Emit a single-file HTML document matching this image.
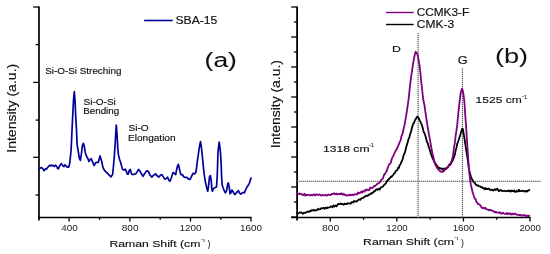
<!DOCTYPE html>
<html><head><meta charset="utf-8"><style>
html,body{margin:0;padding:0;background:#fff;}
svg{display:block;}
text{font-family:"Liberation Sans",sans-serif;}
.t{opacity:0.999;}
.t text{stroke:#111;stroke-width:0.15px;}
</style></head><body>
<svg width="550" height="254" viewBox="0 0 550 254">
<rect width="550" height="254" fill="#fff"/>
<line x1="39.0" y1="6.4" x2="39.0" y2="220.5" stroke="#000" stroke-width="1.7" />
<line x1="38.15" y1="217.5" x2="251.6" y2="217.5" stroke="#000" stroke-width="1.5" />
<line x1="33.2" y1="7" x2="39.0" y2="7" stroke="#000" stroke-width="1.3" />
<line x1="33.2" y1="82.4" x2="39.0" y2="82.4" stroke="#000" stroke-width="1.3" />
<line x1="33.2" y1="157.3" x2="39.0" y2="157.3" stroke="#000" stroke-width="1.3" />
<line x1="35.6" y1="44.6" x2="39.0" y2="44.6" stroke="#000" stroke-width="1.3" />
<line x1="35.6" y1="120.1" x2="39.0" y2="120.1" stroke="#000" stroke-width="1.3" />
<line x1="35.6" y1="195.0" x2="39.0" y2="195.0" stroke="#000" stroke-width="1.3" />
<line x1="69.1" y1="217.5" x2="69.1" y2="221.5" stroke="#000" stroke-width="1.3" />
<line x1="99.6" y1="217.5" x2="99.6" y2="219.8" stroke="#000" stroke-width="1.3" />
<line x1="129.9" y1="217.5" x2="129.9" y2="221.5" stroke="#000" stroke-width="1.3" />
<line x1="160.2" y1="217.5" x2="160.2" y2="219.8" stroke="#000" stroke-width="1.3" />
<line x1="190.5" y1="217.5" x2="190.5" y2="221.5" stroke="#000" stroke-width="1.3" />
<line x1="220.8" y1="217.5" x2="220.8" y2="219.8" stroke="#000" stroke-width="1.3" />
<line x1="251.0" y1="217.5" x2="251.0" y2="221.5" stroke="#000" stroke-width="1.3" />
<line x1="297.1" y1="6.4" x2="297.1" y2="220.5" stroke="#000" stroke-width="1.8" />
<line x1="291.2" y1="217.5" x2="530.6" y2="217.5" stroke="#000" stroke-width="1.5" />
<line x1="291.2" y1="7" x2="297.1" y2="7" stroke="#000" stroke-width="1.3" />
<line x1="291.2" y1="37" x2="297.1" y2="37" stroke="#000" stroke-width="1.3" />
<line x1="291.2" y1="67" x2="297.1" y2="67" stroke="#000" stroke-width="1.3" />
<line x1="291.2" y1="97" x2="297.1" y2="97" stroke="#000" stroke-width="1.3" />
<line x1="291.2" y1="127" x2="297.1" y2="127" stroke="#000" stroke-width="1.3" />
<line x1="291.2" y1="157" x2="297.1" y2="157" stroke="#000" stroke-width="1.3" />
<line x1="291.2" y1="187" x2="297.1" y2="187" stroke="#000" stroke-width="1.3" />
<line x1="291.2" y1="217" x2="297.1" y2="217" stroke="#000" stroke-width="1.3" />
<line x1="293.9" y1="22" x2="297.1" y2="22" stroke="#000" stroke-width="1.3" />
<line x1="293.9" y1="52" x2="297.1" y2="52" stroke="#000" stroke-width="1.3" />
<line x1="293.9" y1="82" x2="297.1" y2="82" stroke="#000" stroke-width="1.3" />
<line x1="293.9" y1="112" x2="297.1" y2="112" stroke="#000" stroke-width="1.3" />
<line x1="293.9" y1="142" x2="297.1" y2="142" stroke="#000" stroke-width="1.3" />
<line x1="293.9" y1="172" x2="297.1" y2="172" stroke="#000" stroke-width="1.3" />
<line x1="293.9" y1="202" x2="297.1" y2="202" stroke="#000" stroke-width="1.3" />
<line x1="330.2857142857143" y1="217.5" x2="330.2857142857143" y2="221.5" stroke="#000" stroke-width="1.3" />
<line x1="363.57142857142856" y1="217.5" x2="363.57142857142856" y2="219.8" stroke="#000" stroke-width="1.3" />
<line x1="396.8571428571429" y1="217.5" x2="396.8571428571429" y2="221.5" stroke="#000" stroke-width="1.3" />
<line x1="430.1428571428571" y1="217.5" x2="430.1428571428571" y2="219.8" stroke="#000" stroke-width="1.3" />
<line x1="463.42857142857144" y1="217.5" x2="463.42857142857144" y2="221.5" stroke="#000" stroke-width="1.3" />
<line x1="496.7142857142857" y1="217.5" x2="496.7142857142857" y2="219.8" stroke="#000" stroke-width="1.3" />
<line x1="530.0" y1="217.5" x2="530.0" y2="221.5" stroke="#000" stroke-width="1.3" />
<line x1="297.1" y1="181.3" x2="541.2" y2="181.3" stroke="#c4c4c4" stroke-width="1.0" />
<line x1="418.1" y1="33" x2="418.1" y2="217.5" stroke="#c4c4c4" stroke-width="1.0" />
<line x1="462.4" y1="68" x2="462.4" y2="217.5" stroke="#c4c4c4" stroke-width="1.0" />
<line x1="297.1" y1="181.3" x2="541.2" y2="181.3" stroke="#555" stroke-width="1.0" stroke-dasharray="1 1"/>
<line x1="418.1" y1="33" x2="418.1" y2="217.5" stroke="#555" stroke-width="1.0" stroke-dasharray="1 1"/>
<line x1="462.4" y1="68" x2="462.4" y2="217.5" stroke="#555" stroke-width="1.0" stroke-dasharray="1 1"/>
<path d="M39.00,168.30 L39.80,168.30 L41.00,167.70 L42.10,167.90 L43.30,169.50 L44.10,170.70 L45.30,168.90 L46.50,169.10 L47.40,167.70 L48.60,166.50 L49.60,165.30 L50.40,165.90 L51.20,165.10 L52.20,165.90 L53.10,165.30 L54.30,166.50 L55.50,165.10 L56.70,166.50 L57.50,168.30 L58.30,168.90 L59.30,166.50 L60.40,164.80 L61.40,163.60 L62.20,164.80 L63.00,165.90 L64.00,166.50 L64.90,164.80 L66.10,165.90 L67.30,167.10 L68.50,167.10 L69.30,165.30 L69.90,161.80 L70.50,155.90 L71.10,150.00 L71.60,140.00 L72.10,128.00 L72.80,114.00 L73.50,100.00 L74.30,91.50 L75.00,100.00 L75.60,114.00 L76.40,128.00 L77.10,144.40 L78.30,151.50 L79.40,158.60 L80.40,160.40 L81.40,153.90 L82.40,145.60 L83.30,143.30 L84.40,146.80 L85.30,152.70 L86.50,156.20 L87.70,158.00 L88.90,161.50 L90.00,159.80 L91.20,158.60 L92.40,161.50 L94.10,165.50 L95.90,162.40 L98.30,162.40 L100.00,155.90 L101.80,161.80 L103.00,167.70 L104.70,170.60 L106.50,172.40 L108.30,174.20 L111.00,176.90 L112.60,174.50 L113.30,168.00 L114.20,158.00 L114.90,148.00 L115.60,136.00 L116.30,125.00 L117.10,136.00 L117.80,148.00 L118.40,154.70 L119.60,159.40 L120.70,162.70 L121.80,166.70 L122.70,169.40 L124.10,170.10 L125.40,169.20 L126.30,171.40 L127.40,174.10 L128.30,174.10 L129.40,170.10 L130.30,169.40 L131.20,172.80 L132.10,174.50 L133.40,174.50 L134.80,174.10 L136.10,173.40 L137.40,171.40 L138.60,169.50 L139.90,170.80 L141.10,173.30 L143.00,176.40 L144.90,173.30 L146.80,170.80 L148.30,171.40 L150.00,175.20 L151.90,177.10 L153.70,175.20 L155.60,173.90 L157.10,175.80 L158.80,177.10 L160.40,175.20 L161.90,174.60 L163.20,176.60 L164.70,179.10 L166.30,178.50 L167.60,177.20 L168.90,180.40 L170.10,181.00 L171.20,178.30 L172.30,174.70 L173.10,172.50 L174.40,173.50 L175.70,174.70 L176.50,170.20 L177.60,165.70 L178.40,164.50 L179.20,167.60 L180.10,172.00 L181.10,174.70 L182.30,174.50 L183.60,176.60 L184.90,177.50 L186.10,177.20 L187.40,177.90 L188.60,179.10 L189.90,179.50 L191.20,177.10 L192.40,174.60 L193.30,173.30 L194.60,173.90 L195.80,172.70 L196.50,168.00 L197.50,160.10 L198.40,154.00 L199.40,147.00 L200.50,141.60 L201.50,148.00 L202.30,156.00 L203.10,164.00 L203.90,172.00 L205.00,180.00 L206.90,188.60 L207.70,191.30 L208.50,186.30 L209.50,176.80 L210.40,175.60 L211.20,180.40 L211.80,188.60 L212.40,191.30 L213.20,189.20 L214.20,188.00 L215.40,187.50 L216.50,186.90 L217.20,176.80 L217.60,165.00 L217.90,154.00 L218.50,147.00 L219.20,142.20 L219.90,147.00 L220.60,154.00 L221.20,165.00 L221.60,176.80 L222.20,185.10 L223.00,187.50 L224.20,190.70 L225.40,192.90 L226.60,190.70 L227.80,183.60 L228.40,183.00 L229.30,187.80 L230.10,193.90 L231.00,192.50 L231.90,190.10 L232.90,191.30 L233.70,193.10 L234.90,194.50 L236.10,193.10 L237.20,191.90 L238.40,190.70 L239.60,193.10 L240.80,194.10 L242.00,193.10 L243.10,192.50 L244.30,192.80 L245.50,190.10 L246.70,187.50 L247.90,185.70 L249.10,183.90 L250.20,180.40 L251.10,178.00" fill="none" stroke="#00009a" stroke-width="1.7" stroke-linejoin="round" stroke-linecap="round" />
<path d="M297.30,213.30 L298.10,213.33 L298.90,212.93 L299.70,212.50 L300.50,212.60 L301.30,212.38 L302.10,213.01 L302.90,213.75 L303.70,212.93 L304.50,212.66 L305.30,212.90 L306.10,212.53 L306.90,212.09 L307.70,211.41 L308.50,211.71 L309.30,211.93 L310.10,210.76 L310.90,211.06 L311.70,210.19 L312.50,210.36 L313.30,209.92 L314.10,210.56 L314.90,209.89 L315.70,210.50 L316.50,210.28 L317.30,209.95 L318.10,208.61 L318.90,209.36 L319.70,209.37 L320.50,209.22 L321.30,208.16 L322.10,208.45 L322.90,208.03 L323.70,207.98 L324.50,208.78 L325.30,207.71 L326.10,207.97 L326.90,208.29 L327.70,207.42 L328.50,207.53 L329.30,207.47 L330.10,207.23 L330.90,206.37 L331.70,206.81 L332.50,207.23 L333.30,205.56 L334.10,206.55 L334.90,205.96 L335.70,205.36 L336.50,206.34 L337.30,205.30 L338.10,203.90 L338.90,204.11 L339.70,203.95 L340.50,203.48 L341.30,204.04 L342.10,203.79 L342.90,204.29 L343.70,204.72 L344.50,203.66 L345.30,204.10 L346.10,203.77 L346.90,204.06 L347.70,203.24 L348.50,203.32 L349.30,203.28 L350.10,203.60 L350.90,203.50 L351.70,202.04 L352.50,202.08 L353.30,202.58 L354.10,201.03 L354.90,201.45 L355.70,201.27 L356.50,201.58 L357.30,200.93 L358.10,200.05 L358.90,199.67 L359.70,199.36 L360.50,199.88 L361.30,198.53 L362.10,198.16 L362.90,198.06 L363.70,197.40 L364.50,196.93 L365.30,196.04 L366.10,196.16 L366.90,195.52 L367.70,195.89 L368.50,195.19 L369.30,194.40 L370.10,194.29 L370.90,193.34 L371.70,193.58 L372.50,192.60 L373.30,192.45 L374.10,191.06 L374.90,191.42 L375.70,189.96 L376.50,189.33 L377.30,189.73 L378.10,188.98 L378.90,189.05 L379.70,189.64 L380.50,187.64 L381.30,187.29 L382.10,187.02 L382.90,186.48 L383.70,185.47 L384.50,184.57 L385.30,184.01 L386.10,182.91 L386.90,181.12 L387.70,180.59 L388.50,179.70 L389.30,178.31 L390.10,178.11 L390.90,176.71 L391.70,176.79 L392.50,175.60 L393.30,174.74 L394.10,173.60 L394.90,172.96 L395.70,171.06 L396.50,170.53 L397.30,170.20 L398.10,167.69 L398.90,167.90 L399.70,165.06 L400.50,164.59 L401.30,162.08 L402.10,160.74 L402.90,158.27 L403.70,154.91 L404.50,153.56 L405.30,150.91 L406.10,147.49 L406.90,144.75 L407.70,142.18 L408.50,139.14 L409.30,137.54 L410.10,134.23 L410.90,132.07 L411.70,128.82 L412.50,126.12 L413.30,123.54 L414.10,122.82 L414.90,120.16 L415.70,119.23 L416.50,117.56 L417.30,116.68 L418.10,117.46 L418.90,118.36 L419.70,120.36 L420.50,121.93 L421.30,123.75 L422.10,125.66 L422.90,128.40 L423.70,132.08 L424.50,133.35 L425.30,135.46 L426.10,138.52 L426.90,141.85 L427.70,143.02 L428.50,145.90 L429.30,148.62 L430.10,150.85 L430.90,153.97 L431.70,155.82 L432.50,158.00 L433.30,159.44 L434.10,161.75 L434.90,162.56 L435.70,164.10 L436.50,165.09 L437.30,166.01 L438.10,167.96 L438.90,167.63 L439.70,168.35 L440.50,168.50 L441.30,168.47 L442.10,168.56 L442.90,169.19 L443.70,168.60 L444.50,168.55 L445.30,168.36 L446.10,168.60 L446.90,167.92 L447.70,167.17 L448.50,166.09 L449.30,164.80 L450.10,165.05 L450.90,163.96 L451.70,162.00 L452.50,160.95 L453.30,159.05 L454.10,156.97 L454.90,154.27 L455.70,150.20 L456.50,147.76 L457.30,143.52 L458.10,141.83 L458.90,139.25 L459.70,136.78 L460.50,134.21 L461.30,131.37 L462.10,128.75 L462.90,129.16 L463.70,133.91 L464.50,138.97 L465.30,144.09 L466.10,149.50 L466.90,154.32 L467.70,159.60 L468.50,165.94 L469.30,170.62 L470.10,173.61 L470.90,176.57 L471.70,178.38 L472.50,180.00 L473.30,181.71 L474.10,182.35 L474.90,183.05 L475.70,184.69 L476.50,184.90 L477.30,185.63 L478.10,185.42 L478.90,186.09 L479.70,186.27 L480.50,186.60 L481.30,187.42 L482.10,187.21 L482.90,188.02 L483.70,188.24 L484.50,189.30 L485.30,187.82 L486.10,189.19 L486.90,188.88 L487.70,189.10 L488.50,188.55 L489.30,189.22 L490.10,189.98 L490.90,189.67 L491.70,189.85 L492.50,189.76 L493.30,190.58 L494.10,190.09 L494.90,189.10 L495.70,189.95 L496.50,189.37 L497.30,188.78 L498.10,190.19 L498.90,191.17 L499.70,190.58 L500.50,190.02 L501.30,190.18 L502.10,191.27 L502.90,190.83 L503.70,190.83 L504.50,190.83 L505.30,190.92 L506.10,191.32 L506.90,191.21 L507.70,191.06 L508.50,190.45 L509.30,191.24 L510.10,190.66 L510.90,191.57 L511.70,190.40 L512.50,190.99 L513.30,191.07 L514.10,190.43 L514.90,191.96 L515.70,191.83 L516.50,190.87 L517.30,191.49 L518.10,191.29 L518.90,189.79 L519.70,191.23 L520.50,191.07 L521.30,191.14 L522.10,190.56 L522.90,190.97 L523.70,191.01 L524.50,191.67 L525.30,191.20 L526.10,190.98 L526.90,191.70 L527.70,190.61 L528.50,190.65 L529.30,189.89" fill="none" stroke="#000" stroke-width="1.8" stroke-linejoin="round" stroke-linecap="round" />
<path d="M297.30,193.02 L298.10,193.94 L298.90,194.12 L299.70,193.51 L300.50,193.88 L301.30,194.02 L302.10,194.82 L302.90,194.61 L303.70,195.06 L304.50,193.82 L305.30,195.57 L306.10,194.79 L306.90,195.23 L307.70,194.87 L308.50,194.80 L309.30,195.25 L310.10,195.46 L310.90,194.97 L311.70,195.02 L312.50,195.47 L313.30,194.71 L314.10,194.42 L314.90,195.40 L315.70,194.86 L316.50,194.24 L317.30,194.79 L318.10,194.97 L318.90,194.60 L319.70,194.45 L320.50,195.22 L321.30,195.65 L322.10,195.05 L322.90,194.77 L323.70,195.31 L324.50,195.45 L325.30,194.92 L326.10,195.31 L326.90,195.54 L327.70,194.86 L328.50,194.45 L329.30,194.93 L330.10,194.78 L330.90,195.10 L331.70,193.81 L332.50,194.02 L333.30,193.83 L334.10,193.29 L334.90,194.15 L335.70,194.27 L336.50,193.56 L337.30,194.55 L338.10,194.19 L338.90,194.02 L339.70,193.83 L340.50,194.20 L341.30,193.26 L342.10,194.44 L342.90,194.64 L343.70,193.65 L344.50,194.91 L345.30,194.82 L346.10,195.54 L346.90,195.13 L347.70,195.31 L348.50,195.37 L349.30,194.65 L350.10,195.28 L350.90,194.81 L351.70,195.00 L352.50,194.38 L353.30,195.07 L354.10,194.72 L354.90,194.10 L355.70,194.27 L356.50,194.34 L357.30,194.37 L358.10,192.44 L358.90,193.43 L359.70,192.98 L360.50,192.46 L361.30,191.76 L362.10,192.59 L362.90,191.02 L363.70,191.63 L364.50,191.70 L365.30,189.94 L366.10,190.29 L366.90,189.48 L367.70,189.95 L368.50,190.24 L369.30,190.05 L370.10,187.70 L370.90,187.85 L371.70,188.04 L372.50,188.02 L373.30,186.99 L374.10,185.96 L374.90,186.03 L375.70,185.36 L376.50,184.64 L377.30,183.75 L378.10,183.68 L378.90,183.01 L379.70,182.19 L380.50,181.26 L381.30,179.73 L382.10,179.13 L382.90,178.51 L383.70,176.06 L384.50,173.86 L385.30,173.77 L386.10,171.77 L386.90,170.55 L387.70,167.67 L388.50,165.95 L389.30,164.00 L390.10,163.75 L390.90,162.56 L391.70,159.04 L392.50,157.31 L393.30,156.17 L394.10,153.79 L394.90,152.40 L395.70,150.69 L396.50,149.30 L397.30,147.98 L398.10,145.67 L398.90,144.39 L399.70,142.00 L400.50,140.66 L401.30,136.83 L402.10,134.58 L402.90,132.58 L403.70,128.25 L404.50,125.20 L405.30,120.60 L406.10,116.11 L406.90,110.81 L407.70,105.71 L408.50,99.94 L409.30,92.38 L410.10,85.09 L410.90,78.42 L411.70,72.77 L412.50,67.58 L413.30,62.10 L414.10,57.98 L414.90,54.26 L415.70,51.78 L416.50,52.56 L417.30,54.11 L418.10,57.21 L418.90,61.60 L419.70,66.50 L420.50,73.73 L421.30,82.37 L422.10,89.07 L422.90,96.99 L423.70,102.06 L424.50,105.29 L425.30,111.49 L426.10,116.73 L426.90,121.92 L427.70,127.06 L428.50,131.87 L429.30,136.56 L430.10,140.37 L430.90,145.54 L431.70,149.56 L432.50,153.73 L433.30,156.89 L434.10,160.43 L434.90,163.28 L435.70,165.36 L436.50,166.89 L437.30,168.19 L438.10,169.06 L438.90,170.19 L439.70,170.64 L440.50,171.69 L441.30,171.71 L442.10,171.97 L442.90,170.77 L443.70,171.43 L444.50,170.14 L445.30,169.53 L446.10,169.12 L446.90,168.17 L447.70,167.68 L448.50,166.33 L449.30,164.81 L450.10,163.60 L450.90,163.15 L451.70,160.64 L452.50,158.15 L453.30,153.55 L454.10,146.97 L454.90,142.64 L455.70,134.99 L456.50,130.14 L457.30,124.27 L458.10,115.27 L458.90,108.15 L459.70,100.50 L460.50,94.42 L461.30,90.67 L462.10,88.67 L462.90,91.04 L463.70,95.80 L464.50,103.19 L465.30,115.98 L466.10,126.10 L466.90,139.40 L467.70,151.08 L468.50,163.12 L469.30,172.68 L470.10,179.85 L470.90,184.98 L471.70,188.24 L472.50,192.12 L473.30,194.27 L474.10,196.84 L474.90,198.81 L475.70,199.29 L476.50,202.06 L477.30,202.70 L478.10,204.02 L478.90,204.19 L479.70,204.74 L480.50,205.58 L481.30,207.03 L482.10,208.01 L482.90,207.67 L483.70,208.54 L484.50,208.17 L485.30,207.66 L486.10,209.00 L486.90,209.46 L487.70,209.33 L488.50,210.01 L489.30,210.37 L490.10,209.87 L490.90,209.78 L491.70,210.62 L492.50,210.84 L493.30,210.98 L494.10,211.87 L494.90,212.45 L495.70,211.59 L496.50,212.28 L497.30,212.54 L498.10,212.56 L498.90,212.86 L499.70,212.28 L500.50,212.98 L501.30,213.76 L502.10,213.28 L502.90,212.70 L503.70,213.45 L504.50,213.91 L505.30,213.59 L506.10,213.20 L506.90,214.33 L507.70,213.01 L508.50,213.97 L509.30,213.78 L510.10,213.27 L510.90,214.56 L511.70,214.20 L512.50,213.52 L513.30,214.48 L514.10,214.04 L514.90,213.38 L515.70,214.08 L516.50,214.65 L517.30,214.93 L518.10,214.79 L518.90,214.82 L519.70,215.13 L520.50,214.88 L521.30,215.66 L522.10,215.24 L522.90,215.41 L523.70,215.62 L524.50,214.92 L525.30,215.18 L526.10,216.40 L526.90,215.89 L527.70,215.67 L528.50,216.08 L529.30,215.76" fill="none" stroke="#800080" stroke-width="1.8" stroke-linejoin="round" stroke-linecap="round" />
<line x1="144.1" y1="20.5" x2="172.7" y2="20.5" stroke="#00009a" stroke-width="1.6" />
<line x1="386" y1="12.5" x2="413.6" y2="12.5" stroke="#800080" stroke-width="1.4" />
<line x1="386" y1="24.5" x2="413.6" y2="24.5" stroke="#000" stroke-width="1.4" />
<g class="t">
<text transform="translate(175.45,24.10) scale(1.2173,1)" font-size="10.00" fill="#111" >SBA-15</text>
<text transform="translate(204.62,67.00) scale(1.3520,1)" font-size="19.50" fill="#111" style="stroke-width:0.1px">(a)</text>
<text transform="translate(494.97,63.40) scale(1.3939,1)" font-size="19.50" fill="#111" style="stroke:none">(b)</text>
<text transform="translate(45.26,74.10) scale(1.1347,1)" font-size="8.71" fill="#111" >Si-O-Si Streching</text>
<text transform="translate(83.45,104.50) scale(1.1742,1)" font-size="8.57" fill="#111" >Si-O-Si</text>
<text transform="translate(83.21,114.40) scale(1.1452,1)" font-size="8.57" fill="#111" >Bending</text>
<text transform="translate(128.44,131.00) scale(1.2082,1)" font-size="8.43" fill="#111" >Si-O</text>
<text transform="translate(128.10,141.00) scale(1.1916,1)" font-size="8.43" fill="#111" >Elongation</text>
<text transform="translate(61.20,230.90) scale(1.1042,1)" font-size="9.00" fill="#222" style="stroke:none">400</text>
<text transform="translate(121.75,230.90) scale(1.1216,1)" font-size="9.00" fill="#222" style="stroke:none">800</text>
<text transform="translate(179.56,230.90) scale(1.1032,1)" font-size="9.00" fill="#222" style="stroke:none">1200</text>
<text transform="translate(240.06,230.90) scale(1.1032,1)" font-size="9.00" fill="#222" style="stroke:none">1600</text>
<text transform="translate(321.97,230.80) scale(1.1611,1)" font-size="8.86" fill="#222" style="stroke:none">800</text>
<text transform="translate(386.13,230.80) scale(1.0997,1)" font-size="8.86" fill="#222" style="stroke:none">1200</text>
<text transform="translate(452.70,230.80) scale(1.0997,1)" font-size="8.86" fill="#222" style="stroke:none">1600</text>
<text transform="translate(519.52,230.80) scale(1.0868,1)" font-size="8.86" fill="#222" style="stroke:none">2000</text>
<text transform="translate(363.12,245.30) scale(1.2584,1)" font-size="9.71" fill="#111" >Raman Shift (cm</text>
<text transform="translate(454.46,239.30) scale(0.8844,1)" font-size="6.00" fill="#111" >-</text>
<text transform="translate(456.52,240.30) scale(0.8582,1)" font-size="4.29" fill="#111" >1</text>
<text transform="translate(461.26,245.50) scale(0.8115,1)" font-size="9.30" fill="#111" >)</text>
<text transform="translate(109.52,247.20) scale(1.2584,1)" font-size="9.71" fill="#111" >Raman Shift (cm</text>
<text transform="translate(200.86,241.20) scale(0.8844,1)" font-size="6.00" fill="#111" >-</text>
<text transform="translate(202.92,242.20) scale(0.8582,1)" font-size="4.29" fill="#111" >1</text>
<text transform="translate(207.66,247.40) scale(0.8115,1)" font-size="9.30" fill="#111" >)</text>
<text transform="translate(16.20,152.76) rotate(-90) scale(1.0564,1)" font-size="13.30" fill="#111">Intensity (a.u.)</text>
<text transform="translate(280.40,148.25) rotate(-90) scale(1.0479,1)" font-size="13.30" fill="#111">Intensity (a.u.)</text>
<text transform="translate(416.71,16.00) scale(1.1825,1)" font-size="10.00" fill="#111" >CCMK3-F</text>
<text transform="translate(416.70,27.70) scale(1.2053,1)" font-size="10.00" fill="#111" >CMK-3</text>
<text transform="translate(391.92,51.90) scale(1.2447,1)" font-size="9.86" fill="#111" >D</text>
<text transform="translate(457.77,63.80) scale(1.2493,1)" font-size="10.14" fill="#111" >G</text>
<text transform="translate(475.60,103.40) scale(1.2409,1)" font-size="9.71" fill="#111" >1525 cm</text>
<text transform="translate(521.71,98.30) scale(1.0884,1)" font-size="6.00" fill="#111" >-</text>
<text transform="translate(524.26,98.50) scale(0.8046,1)" font-size="5.71" fill="#111" >1</text>
<text transform="translate(322.99,151.50) scale(1.2871,1)" font-size="9.43" fill="#111" >1318 cm</text>
<text transform="translate(369.11,146.60) scale(1.0884,1)" font-size="6.00" fill="#111" >-</text>
<text transform="translate(371.27,147.20) scale(0.7644,1)" font-size="5.71" fill="#111" >1</text>
</g>
</svg>
</body></html>
